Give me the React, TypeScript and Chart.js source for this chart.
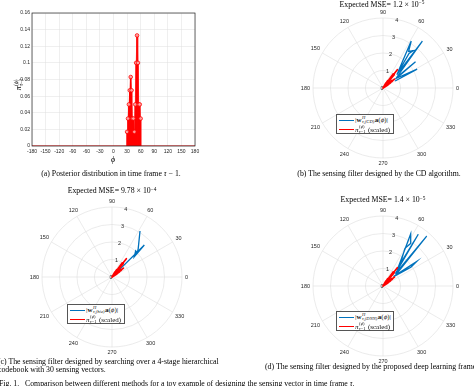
import React, { useEffect, useRef } from "react";
import { Chart, registerables } from "chart.js";

Chart.register(...registerables);

// ---------- data ----------
const phiStem = [30, 32, 34, 36, 38, 40, 42, 44, 46, 48, 50, 52, 54, 56, 58, 60];
const posterior = [0.017, 0.033, 0.05, 0.067, 0.083, 0.067, 0.033, 0.033, 0.017, 0.05, 0.1, 0.133, 0.1, 0.05, 0.05, 0.033];
const phiTicks = [-180, -150, -120, -90, -60, -30, 0, 30, 60, 90, 120, 150, 180];
const probTicks = [0, 0.02, 0.04, 0.06, 0.08, 0.1, 0.12, 0.14, 0.16];
const thetaTicks = [0, 30, 60, 90, 120, 150, 180, 210, 240, 270, 300, 330];
const rTicks = [0, 1, 2, 3, 4];
const posteriorScale = 10;

const beamAngleCD = [30, 29, 36, 39, 38, 50, 44, 53, 51, 55, 59, 46];
const beamGainCD = [0.8, 2.23, 0.95, 2.39, 1.0, 3.5, 1.1, 2.47, 2.75, 2.55, 3.13, 1.2];

const beamAngleHie = [44, 44.7, 42.3, 47.7, 43.8, 47.5, 58.7];
const beamGainHie = [0.05, 2.6, 1.72, 2.01, 2.0, 2.22, 3.08];

const beamAngleDNN = [42, 36, 34, 40, 48.8, 45, 55.7, 52, 59.7, 57, 62, 48];
const beamGainDNN = [0.8, 2.37, 1.92, 0.9, 3.79, 1.0, 3.58, 1.6, 2.49, 2.9, 3.37, 1.2];

// ---------- style ----------
const SERIF = '"Liberation Serif","DejaVu Serif",serif';
const SANS = '"Liberation Sans",Arial,"DejaVu Sans",sans-serif';
const BLUE = "#0072BD";
const RED = "#FF0000";
const TICK = "#262626";
const GRID = "#dedede";
const CAP = 7.8;

const toXY = (deg: number, r: number) => ({
  x: r * Math.cos((deg * Math.PI) / 180),
  y: r * Math.sin((deg * Math.PI) / 180),
});

function StemChart() {
  const ref = useRef<HTMLCanvasElement>(null);
  useEffect(() => {
    const boxPlugin = {
      id: "box",
      afterDatasetsDraw(chart: any) {
        const { ctx, chartArea: a } = chart;
        ctx.save();
        ctx.strokeStyle = TICK;
        ctx.lineWidth = 0.7;
        ctx.strokeRect(a.left, a.top, a.right - a.left, a.bottom - a.top);
        ctx.restore();
      },
    };
    const tops = () => phiStem.map((p, i) => ({ x: p, y: posterior[i] }));
    const chart = new Chart(ref.current!, {
      type: "scatter",
      data: {
        datasets: [
          {
            type: "scatter",
            data: tops(),
            pointStyle: "circle",
            pointRadius: 1.8,
            borderColor: RED,
            backgroundColor: "rgba(255,170,170,0.9)",
            borderWidth: 0.8,
          } as any,
          {
            type: "bar",
            data: tops(),
            backgroundColor: RED,
            barThickness: 1,
            grouped: false,
          } as any,
          {
            type: "line",
            data: [
              { x: -180, y: 0 },
              { x: 180, y: 0 },
            ],
            borderColor: RED,
            borderWidth: 1,
            pointRadius: 0,
            fill: false,
          } as any,
          {
            type: "line",
            data: tops(),
            showLine: true,
            borderColor: "rgba(255,0,0,0.7)",
            backgroundColor: "rgba(255,40,40,0.72)",
            borderWidth: 0.6,
            pointRadius: 0,
            fill: { target: "origin" },
          } as any,
        ],
      },
      options: {
        responsive: false,
        animation: false,
        layout: { padding: { left: 0, top: 13, right: 42, bottom: 0 } },
        plugins: { legend: { display: false }, tooltip: { enabled: false }, filler: { propagate: false } },
        scales: {
          x: {
            type: "linear",
            min: -180,
            max: 180,
            offset: false,
            afterBuildTicks: (s: any) => {
              s.ticks = phiTicks.map((v) => ({ value: v }));
            },
            afterFit: (s: any) => {
              s.height = 24;
            },
            ticks: {
              font: { size: 5, family: SANS },
              color: TICK,
              padding: 2.5,
              maxRotation: 0,
              autoSkip: false,
              callback: (v: any) => String(v),
            },
            grid: { color: GRID, lineWidth: 0.5, drawTicks: false, offset: false },
            border: { display: false },
          },
          y: {
            type: "linear",
            min: 0,
            max: 0.16,
            afterBuildTicks: (s: any) => {
              s.ticks = probTicks.map((v) => ({ value: v }));
            },
            afterFit: (s: any) => {
              s.width = 32;
            },
            ticks: {
              font: { size: 5, family: SANS },
              color: TICK,
              padding: 2,
              callback: (v: any) => String(v),
            },
            grid: { color: GRID, lineWidth: 0.5, drawTicks: false },
            border: { display: false },
          },
        },
      } as any,
      plugins: [boxPlugin],
    });
    return () => chart.destroy();
  }, []);
  return <canvas ref={ref} width={237} height={170} style={{ position: "absolute", left: 0, top: 0 }} />;
}

function PolarChart({ cx, cy, angles, gains }: { cx: number; cy: number; angles: number[]; gains: number[] }) {
  const ref = useRef<HTMLCanvasElement>(null);
  const W = 190;
  const H = 170;
  const R = 70;
  useEffect(() => {
    const gridPlugin = {
      id: "polarGrid",
      beforeDatasetsDraw(chart: any) {
        const { ctx } = chart;
        const sx = chart.scales.x;
        const sy = chart.scales.y;
        const x0 = sx.getPixelForValue(0);
        const y0 = sy.getPixelForValue(0);
        const unit = sx.getPixelForValue(1) - x0;
        const rMax = rTicks[rTicks.length - 1] * unit;
        ctx.save();
        ctx.strokeStyle = GRID;
        ctx.lineWidth = 0.6;
        rTicks.slice(1).forEach((r) => {
          ctx.beginPath();
          ctx.arc(x0, y0, r * unit, 0, Math.PI * 2);
          ctx.stroke();
        });
        thetaTicks.forEach((t) => {
          const a = (t * Math.PI) / 180;
          ctx.beginPath();
          ctx.moveTo(x0, y0);
          ctx.lineTo(x0 + rMax * Math.cos(a), y0 - rMax * Math.sin(a));
          ctx.stroke();
        });
        ctx.fillStyle = TICK;
        ctx.font = `5.5px ${SANS}`;
        ctx.textAlign = "center";
        ctx.textBaseline = "middle";
        thetaTicks.forEach((t) => {
          const a = (t * Math.PI) / 180;
          const w = ctx.measureText(String(t)).width;
          const d = rMax + 3 + (w / 2) * Math.abs(Math.cos(a)) + 2.2 * Math.abs(Math.sin(a));
          ctx.fillText(String(t), x0 + d * Math.cos(a), y0 - d * Math.sin(a));
        });
        const ra = (80 * Math.PI) / 180;
        rTicks.forEach((r) => {
          const d = r * unit;
          ctx.fillText(String(r), x0 + d * Math.cos(ra) + (r === 0 ? -1 : 1.5), y0 - d * Math.sin(ra) + (r === 0 ? 0 : 1));
        });
        ctx.restore();
      },
    };
    const red: any[] = [];
    phiStem.forEach((p, i) => {
      red.push({ x: 0, y: 0 });
      red.push(toXY(p, posterior[i] * posteriorScale));
    });
    red.push({ x: 0, y: 0 });
    const blue = angles.map((a, i) => toXY(a, gains[i]));
    const chart = new Chart(ref.current!, {
      type: "scatter",
      data: {
        datasets: [
          { data: red, showLine: true, borderColor: RED, borderWidth: 1.7, pointRadius: 0, borderJoinStyle: "round" } as any,
          { data: blue, showLine: true, borderColor: BLUE, borderWidth: 1.3, pointRadius: 0 } as any,
        ],
      },
      options: {
        responsive: false,
        animation: false,
        layout: { padding: { left: W / 2 - R, right: W / 2 - R, top: H / 2 - R, bottom: H / 2 - R } },
        plugins: { legend: { display: false }, tooltip: { enabled: false } },
        scales: {
          x: { type: "linear", min: -4, max: 4, display: false },
          y: { type: "linear", min: -4, max: 4, display: false },
        },
      } as any,
      plugins: [gridPlugin],
    });
    return () => chart.destroy();
  }, []);
  return (
    <canvas
      ref={ref}
      width={W}
      height={H}
      style={{ position: "absolute", left: cx - W / 2, top: cy - H / 2 }}
    />
  );
}

function SS({ sup, sub }: { sup: React.ReactNode; sub: React.ReactNode }) {
  return (
    <span
      style={{
        display: "inline-flex",
        flexDirection: "column",
        verticalAlign: "middle",
        fontSize: "0.65em",
        lineHeight: 0.95,
        margin: "0 0.6px",
      }}
    >
      <span>{sup}</span>
      <span>{sub}</span>
    </span>
  );
}

function Sup({ children }: { children: React.ReactNode }) {
  return (
    <span style={{ fontSize: "0.68em", position: "relative", top: "-0.45em" }}>{children}</span>
  );
}

function Text({
  x,
  y,
  size,
  center,
  children,
}: {
  x: number;
  y: number;
  size: number;
  center?: boolean;
  children: React.ReactNode;
}) {
  return (
    <div
      style={{
        position: "absolute",
        left: x,
        top: y,
        fontFamily: SERIF,
        fontSize: size,
        lineHeight: 1,
        whiteSpace: "nowrap",
        color: "#000",
        transform: center ? "translateX(-50%)" : undefined,
      }}
    >
      {children}
    </div>
  );
}

function Legend({ left, top, tag }: { left: number; top: number; tag: string }) {
  const row = (color: string, y: number, content: React.ReactNode) => (
    <div style={{ position: "absolute", left: 0, top: y, height: 10, width: "100%" }}>
      <div style={{ position: "absolute", left: 1.5, top: 4.5, width: 15, height: 1.3, background: color }} />
      <div
        style={{
          position: "absolute",
          left: 18,
          top: 0,
          height: 10,
          display: "flex",
          alignItems: "center",
          whiteSpace: "nowrap",
        }}
      >
        {content}
      </div>
    </div>
  );
  return (
    <div
      style={{
        position: "absolute",
        left,
        top,
        width: 58,
        height: 20,
        border: "0.7px solid #555",
        background: "#fff",
        fontFamily: SERIF,
        fontSize: 7,
        color: "#111",
        boxSizing: "border-box",
      }}
    >
      {row(
        BLUE,
        0,
        <>
          |<b>w</b>
          <SS sup={<i>H</i>} sub={<i>τ,({tag})</i>} />
          <b>a</b>(<i>ϕ</i>)|
        </>
      )}
      {row(
        RED,
        9.5,
        <>
          <i>π</i>
          <SS sup={<>(<i>ϕ</i>)</>} sub={<><i>τ</i>−1</>} />
          &nbsp;(scaled)
        </>
      )}
    </div>
  );
}

export default function App() {
  return (
    <div
      style={{
        position: "fixed",
        left: 0,
        top: 0,
        width: 474,
        height: 386,
        overflow: "hidden",
        background: "#fff",
      }}
    >
      <StemChart />
      <div
        style={{
          position: "absolute",
          left: 19,
          top: 84,
          transform: "translate(-50%,-50%) rotate(-90deg)",
          fontFamily: SERIF,
          fontSize: 8,
          whiteSpace: "nowrap",
          display: "flex",
          alignItems: "center",
        }}
      >
        <i>π</i>
        <SS sup={<>(<i>ϕ</i>)</>} sub={<><i>τ</i>−1</>} />
      </div>
      <Text x={113} y={156} size={8} center>
        <i>ϕ</i>
      </Text>
      <Text x={111} y={169.5} size={CAP} center>
        (a) Posterior distribution in time frame <i>τ</i> − 1.
      </Text>

      <PolarChart cx={382.5} cy={88} angles={beamAngleCD} gains={beamGainCD} />
      <Text x={382} y={0.5} size={7.8} center>
        Expected MSE= 1.2 × 10<Sup>−5</Sup>
      </Text>
      <Legend left={336} top={114} tag="CD" />
      <Text x={379} y={169.5} size={CAP} center>
        (b) The sensing filter designed by the CD algorithm.
      </Text>

      <PolarChart cx={112} cy={277} angles={beamAngleHie} gains={beamGainHie} />
      <Text x={112} y={187} size={7.8} center>
        Expected MSE= 9.78 × 10<Sup>−4</Sup>
      </Text>
      <Legend left={67} top={304} tag="hie" />
      <Text x={-2} y={357.5} size={CAP}>
        (c) The sensing filter designed by searching over a 4-stage hierarchical
      </Text>
      <Text x={-2} y={366} size={CAP}>
        codebook with 30 sensing vectors.
      </Text>

      <PolarChart cx={383} cy={286} angles={beamAngleDNN} gains={beamGainDNN} />
      <Text x={383} y={196} size={7.8} center>
        Expected MSE= 1.4 × 10<Sup>−5</Sup>
      </Text>
      <Legend left={336} top={311} tag="DNN" />
      <Text x={265} y={362.5} size={CAP}>
        (d) The sensing filter designed by the proposed deep learning framework.
      </Text>

      <Text x={-1} y={379.5} size={CAP}>
        Fig. 1.&nbsp;&nbsp;&nbsp;Comparison between different methods for a toy example of designing the sensing vector in time frame <i>τ</i>.
      </Text>
    </div>
  );
}
